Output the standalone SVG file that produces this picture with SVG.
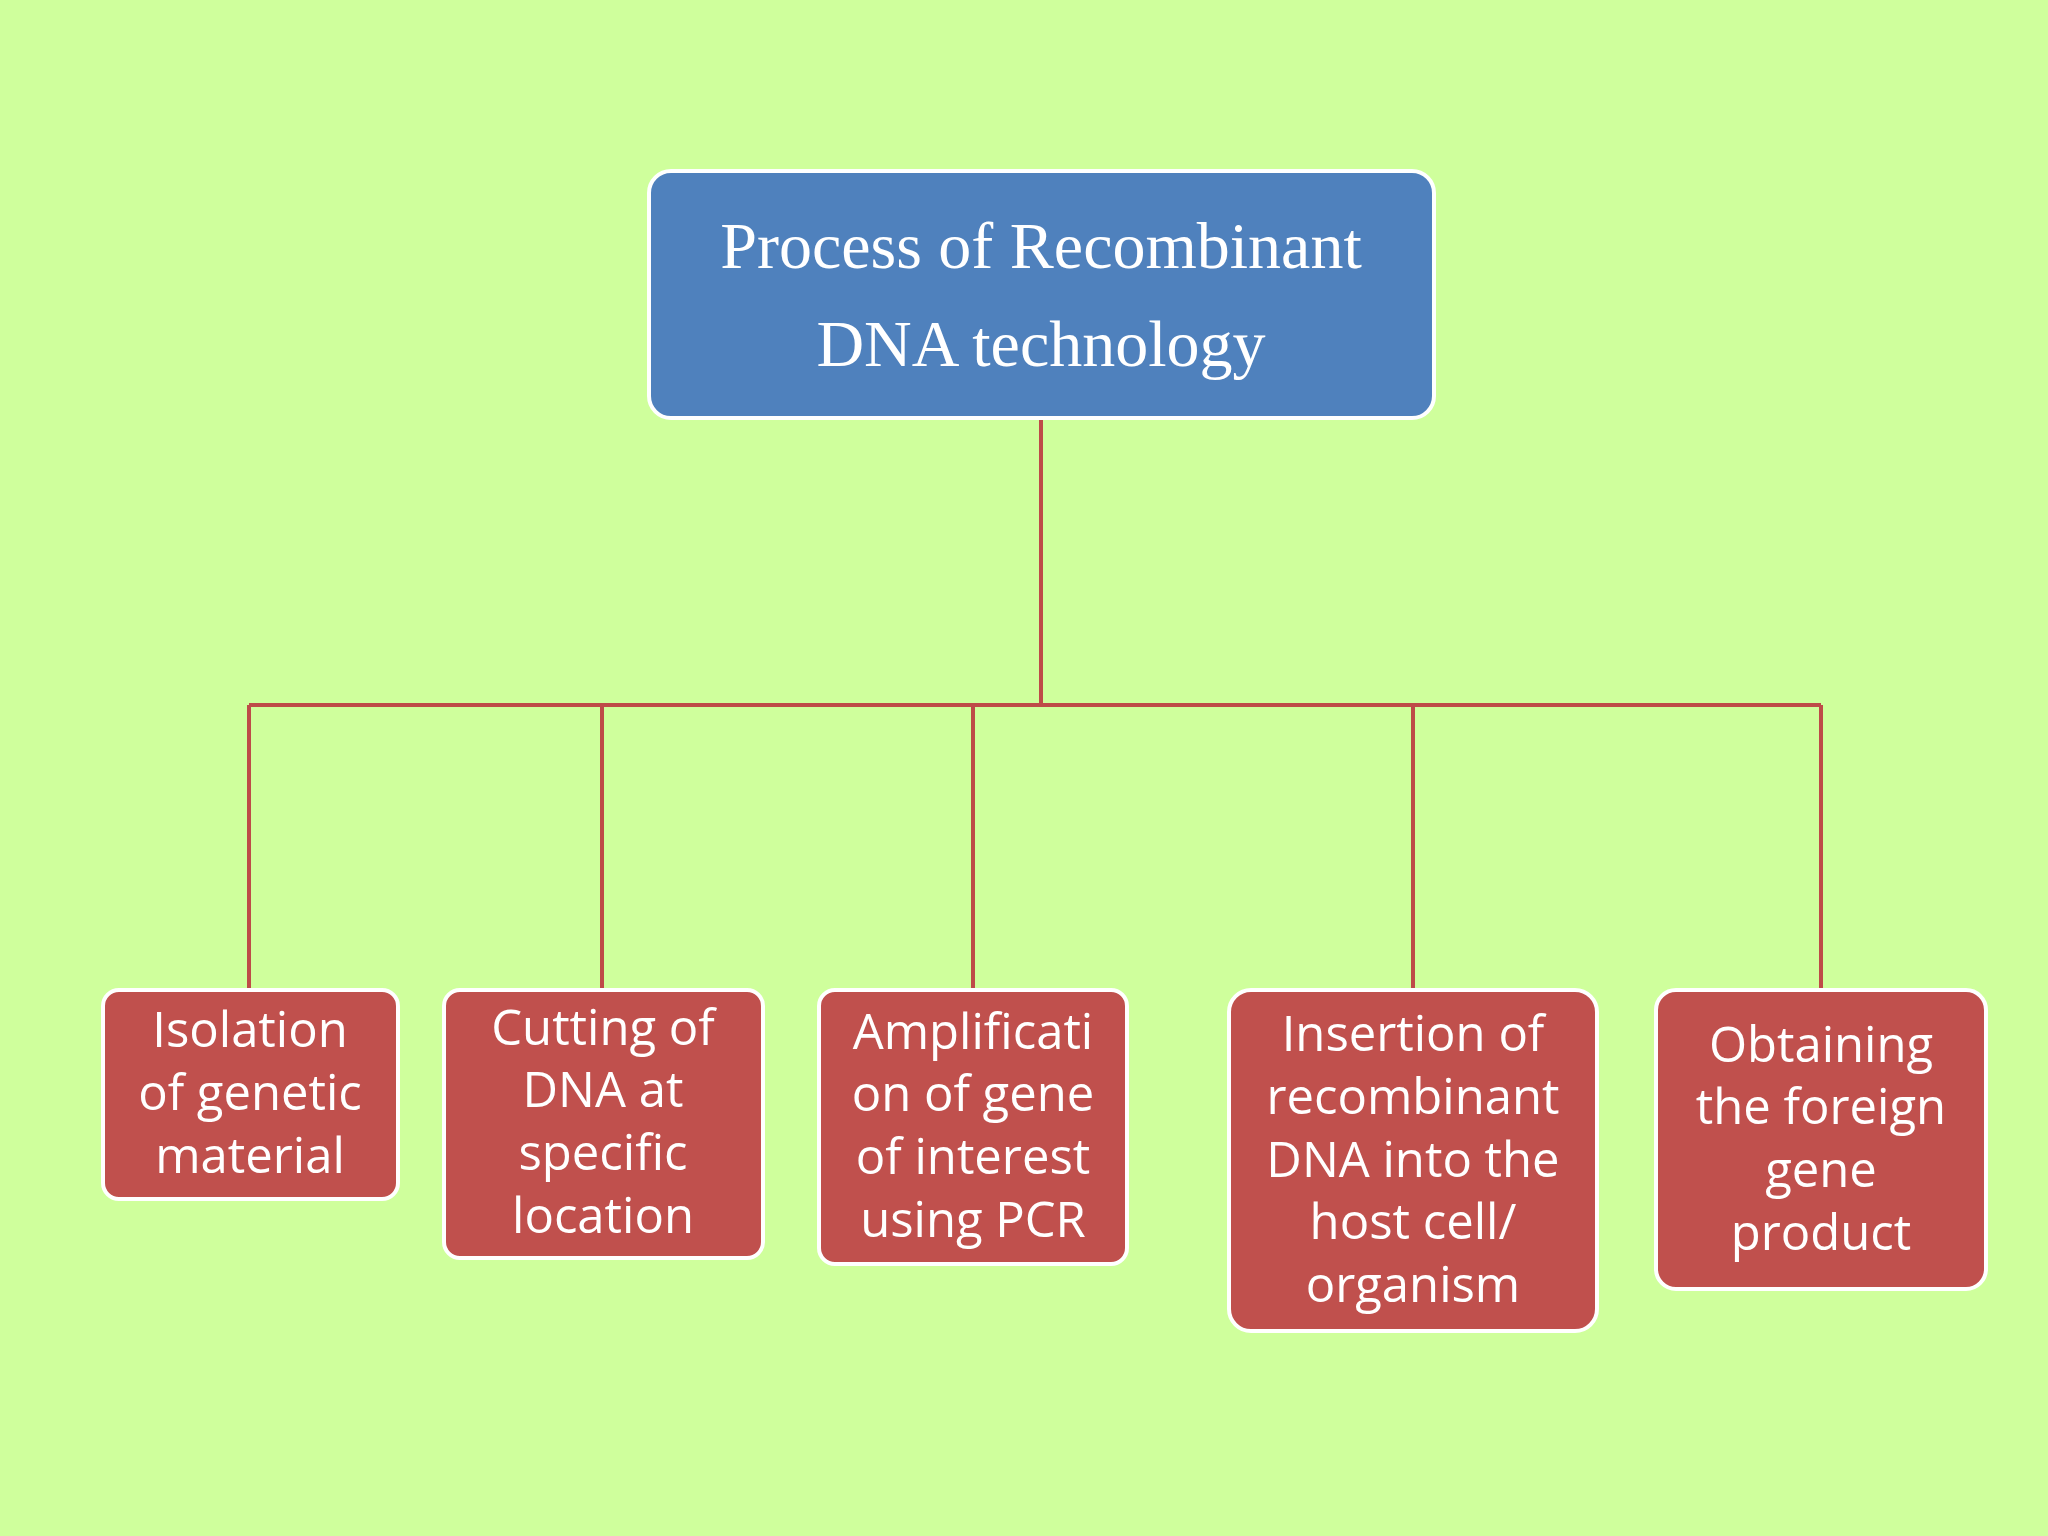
<svg xmlns="http://www.w3.org/2000/svg" width="2048" height="1536" viewBox="0 0 2048 1536">
<style>
.n{fill:#C0504D;stroke:#fff;stroke-width:4}
.t{fill:#fff;font-family:"Open Sans","Noto Sans",sans-serif;font-size:49px;text-anchor:middle}
.h{fill:#fff;font-family:"Liberation Serif",serif;font-size:66px;text-anchor:middle}
.c{stroke:#BE4B48;stroke-width:4;fill:none}
</style>
<rect width="2048" height="1536" fill="#CFFF9C"/>
<g id="connectors">
<path class="c" d="M1041 418V705M249 705H1821M249 705V989M602 705V989M973 705V989M1413 705V989M1821 705V989"/>
</g>
<g id="root"><rect x="649" y="171" width="785" height="247" rx="22" fill="#4F81BD" stroke="#fff" stroke-width="4"/>
<text class="h" x="1041" y="268">Process of Recombinant</text><text class="h" x="1041" y="366">DNA technology</text></g>
<g id="n1"><rect class="n" x="103" y="990" width="295" height="209" rx="16"/>
<text class="t" x="250" y="1047">Isolation</text><text class="t" x="250" y="1110">of genetic</text><text class="t" x="250" y="1173">material</text></g>
<g id="n2"><rect class="n" x="444" y="990" width="319" height="268" rx="16"/>
<text class="t" x="603" y="1045">Cutting of</text><text class="t" x="603" y="1107">DNA at</text><text class="t" x="603" y="1170">specific</text><text class="t" x="603" y="1233">location</text></g>
<g id="n3"><rect class="n" x="819" y="990" width="308" height="274" rx="16"/>
<text class="t" x="973" y="1049">Amplificati</text><text class="t" x="973" y="1111">on of gene</text><text class="t" x="973" y="1174">of interest</text><text class="t" x="973" y="1237">using PCR</text></g>
<g id="n4"><rect class="n" x="1229" y="990" width="368" height="341" rx="22"/>
<text class="t" x="1413" y="1051">Insertion of</text><text class="t" x="1413" y="1114">recombinant</text><text class="t" x="1413" y="1177">DNA into the</text><text class="t" x="1413" y="1239">host cell/</text><text class="t" x="1413" y="1302">organism</text></g>
<g id="n5"><rect class="n" x="1656" y="990" width="330" height="299" rx="20"/>
<text class="t" x="1821" y="1062">Obtaining</text><text class="t" x="1821" y="1124">the foreign</text><text class="t" x="1821" y="1187">gene</text><text class="t" x="1821" y="1250">product</text></g>
</svg>
